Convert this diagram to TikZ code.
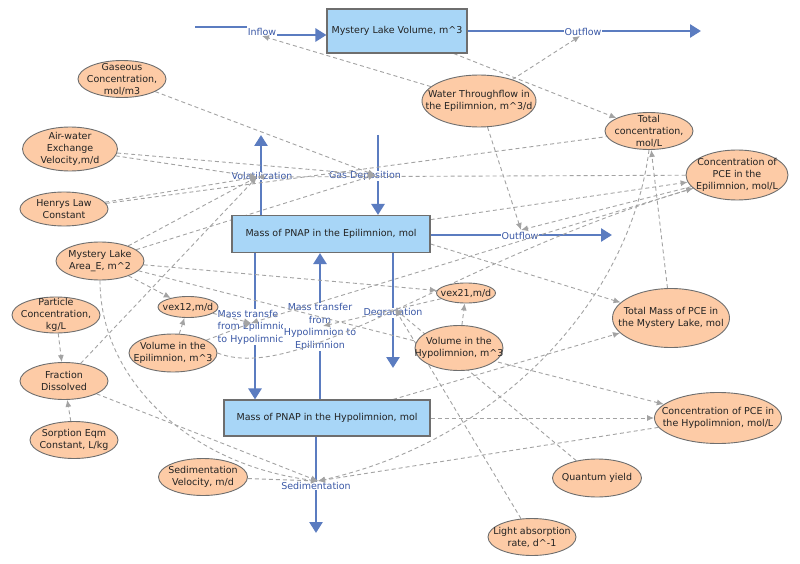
\documentclass[tikz,border=0pt]{standalone}
\usepackage{fontspec}
\setmainfont{DejaVu Sans}
\usetikzlibrary{arrows.meta,calc,shapes.geometric}
\pgfdeclarelayer{bgfill}\pgfdeclarelayer{pipes}\pgfdeclarelayer{labels}\pgfdeclarelayer{links}
\pgfsetlayers{bgfill,pipes,labels,links,main}
\definecolor{pipeblue}{HTML}{5B7CC0}
\definecolor{lblblue}{HTML}{3A58A6}
\definecolor{auxfill}{HTML}{FDCBA6}
\definecolor{stockfill}{HTML}{A8D6F7}
\definecolor{edgegray}{HTML}{6E6E6E}
\definecolor{linkgray}{HTML}{A3A3A3}
\definecolor{txt}{HTML}{222222}
\tikzset{
 stock/.style={draw=edgegray, line width=1.1pt, fill=stockfill, rectangle, inner sep=0pt, text=txt, font=\fontsize{9.5}{12}\selectfont},
 auxe/.style={draw=edgegray, line width=0.9pt, fill=auxfill, ellipse, inner sep=0pt},
 auxt/.style={align=center, text=txt, font=\fontsize{9.5}{12}\selectfont, inner sep=0pt},
 pipe/.style={draw=pipeblue, line width=2.6pt},
 pipea/.style={pipe, -{Triangle[length=11pt,width=13pt]}},
 flowlbl/.style={fill=white, text=lblblue, align=center, font=\fontsize{9.5}{12.5}\selectfont, inner sep=0.5pt},
 link/.style={draw=linkgray, line width=0.9pt, dash pattern=on 4pt off 3pt, -{Latex[length=7pt,width=6pt]}},
 plainlink/.style={draw=linkgray, line width=0.9pt, dash pattern=on 4pt off 3pt},
}
\begin{document}
\begin{tikzpicture}[x=1pt,y=-1pt]
\useasboundingbox (0,0) rectangle (800,564);
\begin{pgfonlayer}{bgfill}
\fill[white] (0,0) rectangle (800,564);
\end{pgfonlayer}

% stocks
\node[stock, minimum width=140, minimum height=44] (vol) at (397,31) {Mystery Lake Volume, m\textasciicircum{}3};
\node[stock, minimum width=198, minimum height=37] (epi) at (331,234) {Mass of PNAP in the Epilimnion, mol};
\node[stock, minimum width=206, minimum height=36] (hyp) at (327,418) {Mass of PNAP in the Hypolimnion, mol};

% auxiliaries
\node[auxe, minimum width=88, minimum height=37] (gasc) at (122,79) {};
\node[auxt] at (gasc) {Gaseous\\Concentration,\\mol/m3};
\node[auxe, minimum width=95, minimum height=44] (awev) at (70,149) {};
\node[auxt] at (awev) {Air-water\\Exchange\\Velocity,m/d};
\node[auxe, minimum width=88, minimum height=34] (hlc) at (64,209) {};
\node[auxt] at (hlc) {Henrys Law\\Constant};
\node[auxe, minimum width=88, minimum height=38] (area) at (100,261) {};
\node[auxt] at (area) {Mystery Lake\\Area\_E, m\textasciicircum{}2};
\node[auxe, minimum width=88, minimum height=36] (pc) at (56,315) {};
\node[auxt] at (pc) {Particle\\Concentration,\\kg/L};
\node[auxe, minimum width=60, minimum height=21] (vex12) at (188,307) {};
\node[auxt] at (vex12) {vex12,m/d};
\node[auxe, minimum width=88, minimum height=38] (volE) at (173,353) {};
\node[auxt] at (volE) {Volume in the\\Epilimnion, m\textasciicircum{}3};
\node[auxe, minimum width=88, minimum height=37] (fd) at (64,381) {};
\node[auxt] at (fd) {Fraction\\Dissolved};
\node[auxe, minimum width=88, minimum height=37] (sec) at (74,440) {};
\node[auxt] at (sec) {Sorption Eqm\\Constant, L/kg};
\node[auxe, minimum width=89, minimum height=37] (sedv) at (203,477) {};
\node[auxt] at (sedv) {Sedimentation\\Velocity, m/d};
\node[auxe, minimum width=114, minimum height=52] (wtf) at (479,101) {};
\node[auxt] at (wtf) {Water Throughflow in\\the Epilimnion, m\textasciicircum{}3/d};
\node[auxe, minimum width=88, minimum height=37] (tc) at (649,131) {};
\node[auxt] at (tc) {Total\\concentration,\\mol/L};
\node[auxe, minimum width=102, minimum height=50] (ce) at (737,175) {};
\node[auxt] at (ce) {Concentration of\\PCE in the\\Epilimnion, mol/L};
\node[auxe, minimum width=117, minimum height=59] (tm) at (671,318) {};
\node[auxt] at (tm) {Total Mass of PCE in\\the Mystery Lake, mol};
\node[auxe, minimum width=59, minimum height=20] (vex21) at (466,293) {};
\node[auxt] at (vex21) {vex21,m/d};
\node[auxe, minimum width=88, minimum height=45] (volH) at (459,348) {};
\node[auxt] at (volH) {Volume in the\\Hypolimnion, m\textasciicircum{}3};
\node[auxe, minimum width=127, minimum height=51] (ch) at (718,418) {};
\node[auxt] at (ch) {Concentration of PCE in\\the Hypolimnion, mol/L};
\node[auxe, minimum width=89, minimum height=38] (qy) at (597,478) {};
\node[auxt] at (qy) {Quantum yield};
\node[auxe, minimum width=88, minimum height=37] (lar) at (532,537) {};
\node[auxt] at (lar) {Light absorption\\rate, d\textasciicircum{}-1};

% valve points and free pipe ends
\coordinate (vInflow) at (262,36);
\coordinate (vOutTop) at (580,36);
\coordinate (vVol) at (257,177);
\coordinate (vGas) at (375,175);
\coordinate (vOutMid) at (521,230);
\coordinate (vE2H) at (251,323);
\coordinate (vH2E) at (323,326);
\coordinate (vDeg) at (395,309);
\coordinate (vSed) at (318,481);
\coordinate (inSrc) at (195,27);
\coordinate (inA) at (247,27);
\coordinate (inB) at (277,35);
\coordinate (outTopEnd) at (701,31);
\coordinate (volTop) at (261,135);
\coordinate (gasTop) at (378,135);
\coordinate (outMidEnd) at (612,235);
\coordinate (degEnd) at (393,368);
\coordinate (sedEnd) at (316,533);

\begin{pgfonlayer}{pipes}
\draw[pipe] (inSrc) -- (inA);
\draw[pipea] (inB) -- (inB -| vol.west);
\draw[pipea] (vol.east) -- (outTopEnd);
\draw[pipea] (volTop |- epi.north) -- (volTop);
\draw[pipea] (gasTop) -- (gasTop |- epi.north);
\draw[pipea] (epi.east |- outMidEnd) -- (outMidEnd);
\draw[pipea] (255,0 |- epi.south) -- (255,0 |- hyp.north);
\draw[pipea] (320,0 |- hyp.north) -- (320,0 |- epi.south);
\draw[pipea] (degEnd |- epi.south) -- (degEnd);
\draw[pipea] (sedEnd |- hyp.south) -- (sedEnd);
\end{pgfonlayer}

\begin{pgfonlayer}{labels}
\node[flowlbl] (lInflow) at (262,32) {Inflow};
\node[flowlbl] (lOutTop) at (583,32) {Outflow};
\node[flowlbl] (lVol) at (262,176) {Volatilization};
\node[flowlbl] (lGas) at (365,176) {Gas Deposition};
\node[flowlbl] (lOutMid) at (520,236) {Outflow};
\node[flowlbl, align=left, anchor=west] (lE2H) at (217,327) {Mass transfe\\from Epilimnic\\to Hypolimnic};
\node[flowlbl] (lH2E) at (320,327) {Mass transfer\\from\\Hypolimnion to\\Epilimnion};
\node[flowlbl] (lDeg) at (393,313) {Degradation};
\node[flowlbl] (lSed) at (316,486) {Sedimentation};
\end{pgfonlayer}

\begin{pgfonlayer}{links}
\draw[link] (wtf) -- (vInflow);
\draw[link] (wtf) -- (vOutTop);
\draw[link] (vol) -- (tc);
\draw[link] (gasc) -- (vGas);
\draw[link] (wtf) -- (vOutMid);
\draw[link] (awev) -- (vVol);
\draw[link] (awev) -- (vGas);
\draw[link] (ce) -- (vVol);
\draw[link] (hlc) -- (vVol);
\draw[plainlink] (hlc) -- (tc);
\draw[link] (area) -- (vVol);
\draw[link] (area) -- (vGas);
\draw[link] (area) -- (vex12);
\draw[link] (area) -- (vex21);
\draw[link] (area) -- (ch);
\draw[link] (area.south) .. controls (100,380) and (190,465) .. (vSed);
\draw[link] (pc) -- (fd);
\draw[link] (sec) -- (fd);
\draw[link] (fd) -- (vVol);
\draw[link] (fd) -- (vSed);
\draw[link] (sedv) -- (vSed);
\draw[link] (volE) -- (vex12);
\draw[link] (volE) -- (vE2H);
\draw[link] (vex12) -- (vE2H);
\draw[link] (volE.east) .. controls (300,385) and (450,262) .. (ce);
\draw[link] (ce) -- (vE2H);
\draw[link] (epi) -- (ce);
\draw[link] (ce) -- (vOutMid);
\draw[link] ($(epi.east)+(0,10)$) -- (tm);
\draw[link] ($(hyp.north)+(66,0)$) -- (tm);
\draw[link] (hyp) -- (ch);
\draw[link] (ch) -- (vSed);
\draw[link] (tc.south) .. controls (630,300) and (500,440) .. (vSed);
\draw[link] (tm) -- (tc);
\draw[link] (lar) -- (vDeg);
\draw[link] (qy) -- (vDeg);
\draw[link] (volH) -- (vex21);
\draw[link] (vex21) -- (vH2E);
\end{pgfonlayer}
\end{tikzpicture}
\end{document}
